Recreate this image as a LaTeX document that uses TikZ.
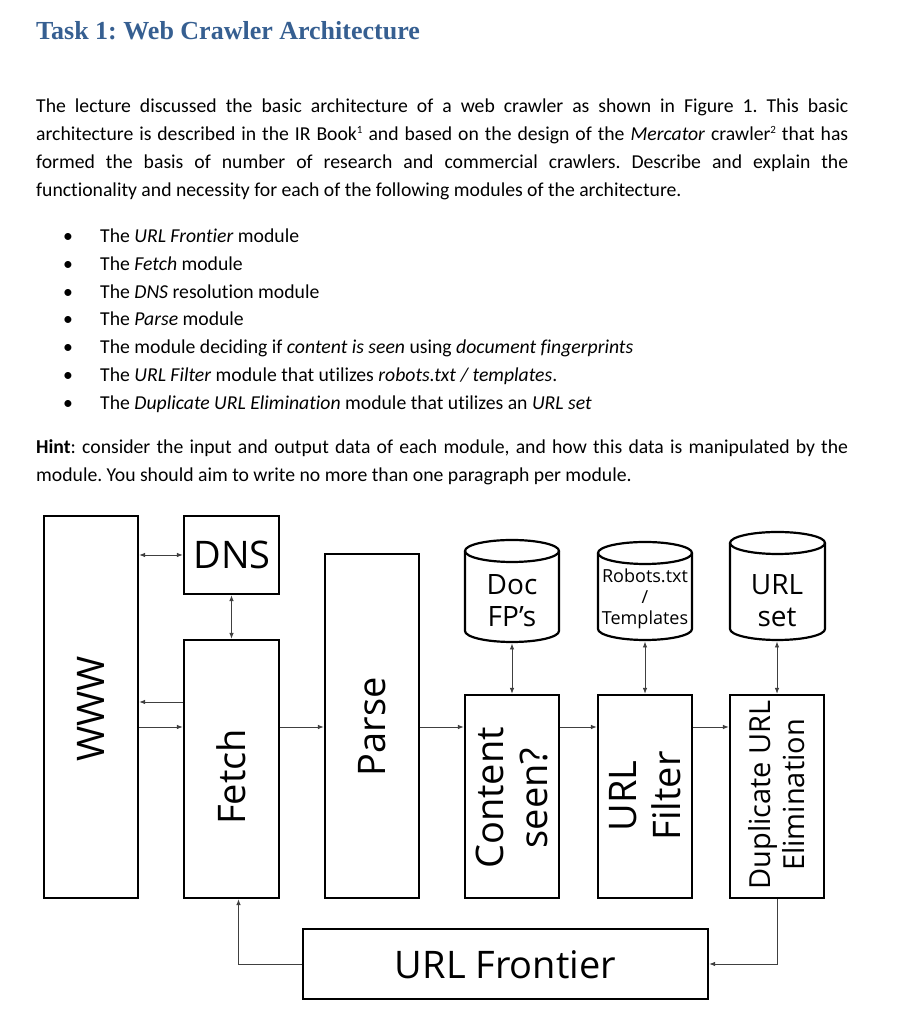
\documentclass[tikz,border=0pt]{standalone}
\usepackage{fontspec}
\setmainfont{Carlito}[Ligatures={NoCommon}]
\newfontfamily\headfont{Liberation Serif}
\newfontfamily\diagfont{Open Sans}
\usetikzlibrary{arrows.meta, positioning}
\definecolor{headblue}{RGB}{54,95,145}
\frenchspacing
\newcommand{\fnmark}[1]{\raisebox{7pt}{\fontsize{11}{11}\selectfont #1}}

\begin{document}
\begin{tikzpicture}[x=1pt, y=1pt,
    bodytext/.style={anchor=base west, inner sep=0pt, font=\fontsize{19.7}{27.7}\selectfont},
    module/.style={draw, line width=2.2pt, inner sep=0pt},
    link/.style={draw=black!75, line width=0.9pt, -{Latex[length=6pt,width=4.5pt]}},
    dlink/.style={link, {Latex[length=6pt,width=4.5pt]}-{Latex[length=6pt,width=4.5pt]}},
    biglabel/.style={font=\diagfont\fontsize{38}{44}\selectfont, align=center, inner sep=0pt},
    midlabel/.style={font=\diagfont\fontsize{29}{34}\selectfont, align=center, inner sep=0pt},
    dblabel/.style={font=\diagfont\fontsize{28}{32}\selectfont, align=center, inner sep=0pt},
    tinylabel/.style={font=\diagfont\fontsize{18}{21}\selectfont, align=center, inner sep=0pt}]
    \useasboundingbox (0,0) rectangle (919,1024);
    \fill[white] (0,0) rectangle (919,1024);

    % heading and task text
    \node[anchor=base west, inner sep=0pt, text=headblue,
          font=\headfont\bfseries\fontsize{26}{30}\selectfont] (title) at (36,984.5) {Task 1: Web Crawler Architecture};
    \node[bodytext] (intro1) at (36,911) {\makebox[812pt][s]{The lecture discussed the basic architecture of a web crawler as shown in Figure 1. This basic}};
    \node[bodytext] (intro2) at (36,883.3) {\makebox[812pt][s]{architecture is described in the IR Book\fnmark{1} and based on the design of the \textit{Mercator} crawler\fnmark{2} that has}};
    \node[bodytext] (intro3) at (36,855.6) {\makebox[812pt][s]{formed the basis of number of research and commercial crawlers. Describe and explain the}};
    \node[bodytext] (intro4) at (36,827.9) {functionality and necessity for each of the following modules of the architecture.};

    % module list
    \foreach \txt [count=\i] in {{The \textit{URL Frontier} module},
        {The \textit{Fetch} module},
        {The \textit{DNS} resolution module},
        {The \textit{Parse} module},
        {The module deciding if \textit{content is seen} using \textit{document fingerprints}},
        {The \textit{URL Filter} module that utilizes \textit{robots.txt / templates}.},
        {The \textit{Duplicate URL Elimination} module that utilizes an \textit{URL set}}} {
        \node[bodytext, anchor=base] (bullet\i) at (68,{781-27.67*(\i-1)}) {\textbullet};
        \node[bodytext] (item\i) at (100,{781-27.67*(\i-1)}) {\txt};
    }

    \node[bodytext] (hint1) at (36,570) {\makebox[812pt][s]{\textbf{Hint}: consider the input and output data of each module, and how this data is manipulated by the}};
    \node[bodytext] (hint2) at (36,542.3) {module. You should aim to write no more than one paragraph per module.};

    % modules
    \node[module, minimum width=94pt, minimum height=382pt] (www) at (91,317) {};
    \node[module, minimum width=95pt, minimum height=78pt] (dns) at (231.5,469) {};
    \node[module, minimum width=95pt, minimum height=258pt] (fetch) at (231.5,255) {};
    \node[module, minimum width=94pt, minimum height=344pt] (parse) at (372,298) {};
    \node[module, minimum width=94pt, minimum height=203pt] (content) at (512,227.5) {};
    \node[module, minimum width=94pt, minimum height=203pt] (filter) at (645,227.5) {};
    \node[module, minimum width=94pt, minimum height=203pt] (dup) at (777,227.5) {};
    \node[module, minimum width=405pt, minimum height=70pt] (frontier) at (505.5,60) {};

    \node[biglabel, rotate=90] (wwwtext) at (91,315) {WWW};
    \node[biglabel] (dnstext) at (232,469) {DNS};
    \node[biglabel, rotate=90] (fetchtext) at (231,247) {Fetch};
    \node[biglabel, rotate=90] (parsetext) at (372,297) {Parse};
    \node[biglabel, rotate=90] (contenttext) at (512,226) {Content\\seen?};
    \node[biglabel, rotate=90] (filtertext) at (645,228) {URL\\Filter};
    \node[midlabel, rotate=90] (duptext) at (777,229) {Duplicate URL\\Elimination};
    \node[biglabel] (frontiertext) at (505.5,59) {URL Frontier};

    % data stores
    \draw[module] (465,473) -- (465,393) arc[start angle=180, end angle=360, x radius=47, y radius=11] -- (559,473);
    \draw[module] (512,473) ellipse[x radius=47, y radius=11];
    \draw[module] (598,471) -- (598,395) arc[start angle=180, end angle=360, x radius=47, y radius=11] -- (692,471);
    \draw[module] (645,471) ellipse[x radius=47, y radius=11];
    \draw[module] (730,481) -- (730,395) arc[start angle=180, end angle=360, x radius=47.5, y radius=11] -- (825,481);
    \draw[module] (777.5,481) ellipse[x radius=47.5, y radius=11];
    \node[dblabel] (doctext) at (512,423) {Doc\\FP’s};
    \node[tinylabel] (robotstext) at (645,425) {Robots.txt\\/\\Templates};
    \node[dblabel] (urlsettext) at (777,423) {URL\\set};
    \coordinate (docbot) at (512,380.5);
    \coordinate (robotsbot) at (645,382.5);
    \coordinate (urlsetbot) at (777,382.5);

    % connectors
    \coordinate (flow) at (0,297);
    \coordinate (back) at (0,322);
    \draw[dlink] (dns.west -| www.east) -- (dns.west);
    \draw[dlink] (dns.south) -- (fetch.north);
    \draw[link] (fetch.west |- back) -- (www.east |- back);
    \draw[link] (www.east |- flow) -- (fetch.west |- flow);
    \draw[link] (fetch.east |- flow) -- (parse.west |- flow);
    \draw[link] (parse.east |- flow) -- (content.west |- flow);
    \draw[link] (content.east |- flow) -- (filter.west |- flow);
    \draw[link] (filter.east |- flow) -- (dup.west |- flow);
    \draw[dlink] (docbot) -- (content.north);
    \draw[dlink] (robotsbot) -- (filter.north);
    \draw[dlink] (urlsetbot) -- (dup.north);
    \draw[link] (dup.south) |- (frontier.east);
    \draw[link] (frontier.west) -| ([xshift=7pt]fetch.south);
\end{tikzpicture}
\end{document}
